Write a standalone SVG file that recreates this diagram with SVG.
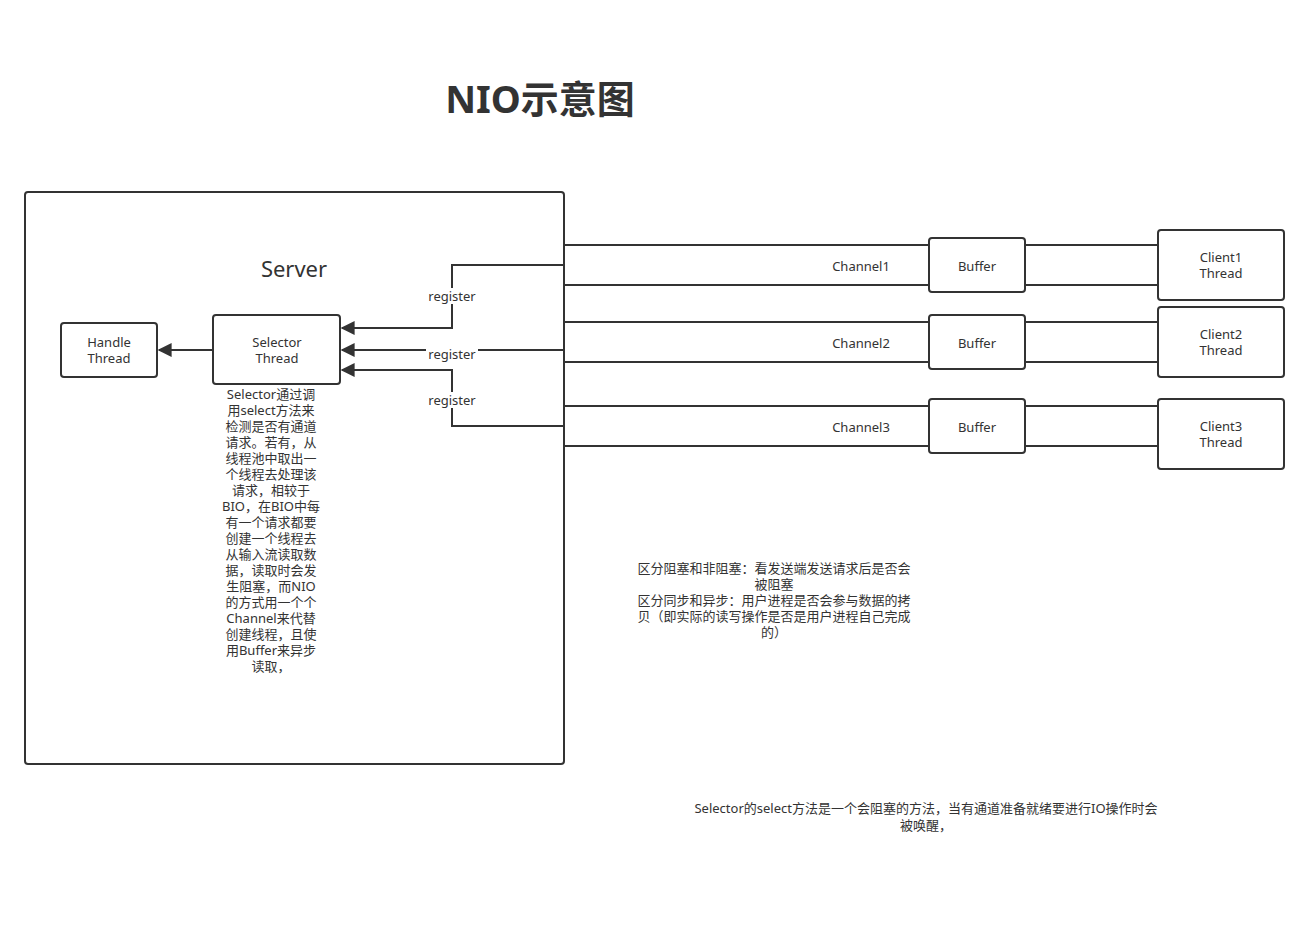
<svg xmlns="http://www.w3.org/2000/svg" width="1309" height="929" viewBox="0 0 1309 929">
<style>
.b{fill:#fff;stroke:#333;stroke-width:2}
.l{fill:none;stroke:#333;stroke-width:2}
text{font-family:"Noto Sans","Noto Sans CJK SC",sans-serif;fill:#333;font-size:13px;text-anchor:middle}
</style>
<defs><marker id="a" viewBox="0 0 10 10" refX="9" refY="5" markerWidth="7" markerHeight="7" orient="auto"><path d="M0,0L10,5L0,10z" fill="#333"/></marker></defs>
<rect width="1309" height="929" fill="#fff"/>
<text x="540" y="113" style="font-size:38px;font-weight:bold">NIO示意图</text>
<g id="server"><rect class="b" x="25" y="192" width="539" height="572" rx="3"/><text x="294" y="277" style="font-size:22px">Server</text></g>
<g id="connectors">
<path class="l" d="M564,245H929M564,285H929M1025,245H1158M1025,285H1158"/>
<path class="l" d="M564,322H929M564,362H929M1025,322H1158M1025,362H1158"/>
<path class="l" d="M564,406H929M564,446H929M1025,406H1158M1025,446H1158"/>
<path class="l" d="M564,265H452V328H342" marker-end="url(#a)"/>
<path class="l" d="M564,350H342" marker-end="url(#a)"/>
<path class="l" d="M564,426H452V370H342" marker-end="url(#a)"/>
<path class="l" d="M213,350H159" marker-end="url(#a)"/>
<rect x="426" y="288" width="52" height="16" fill="#fff"/><text x="452" y="301">register</text>
<rect x="426" y="346" width="52" height="16" fill="#fff"/><text x="452" y="359">register</text>
<rect x="426" y="392" width="52" height="16" fill="#fff"/><text x="452" y="405">register</text>
<text x="861" y="271">Channel1</text><text x="861" y="348">Channel2</text><text x="861" y="432">Channel3</text>
</g>
<g id="handle"><rect class="b" x="61" y="323" width="96" height="54" rx="3"/><text x="109" y="347">Handle</text><text x="109" y="363">Thread</text></g>
<g id="selector"><rect class="b" x="213" y="315" width="127" height="69" rx="3"/><text x="277" y="347">Selector</text><text x="277" y="363">Thread</text></g>
<g id="buf1"><rect class="b" x="929" y="238" width="96" height="54" rx="3"/><text x="977" y="271">Buffer</text></g>
<g id="buf2"><rect class="b" x="929" y="315" width="96" height="54" rx="3"/><text x="977" y="348">Buffer</text></g>
<g id="buf3"><rect class="b" x="929" y="399" width="96" height="54" rx="3"/><text x="977" y="432">Buffer</text></g>
<g id="c1"><rect class="b" x="1158" y="230" width="126" height="70" rx="3"/><text x="1221" y="262">Client1</text><text x="1221" y="278">Thread</text></g>
<g id="c2"><rect class="b" x="1158" y="307" width="126" height="70" rx="3"/><text x="1221" y="339">Client2</text><text x="1221" y="355">Thread</text></g>
<g id="c3"><rect class="b" x="1158" y="399" width="126" height="70" rx="3"/><text x="1221" y="431">Client3</text><text x="1221" y="447">Thread</text></g>
<g id="note1">
<text x="271" y="399">Selector通过调</text><text x="271" y="415">用select方法来</text><text x="271" y="431">检测是否有通道</text><text x="271" y="447">请求。若有，从</text><text x="271" y="463">线程池中取出一</text><text x="271" y="479">个线程去处理该</text><text x="271" y="495">请求，相较于</text><text x="271" y="511">BIO，在BIO中每</text><text x="271" y="527">有一个请求都要</text><text x="271" y="543">创建一个线程去</text><text x="271" y="559">从输入流读取数</text><text x="271" y="575">据，读取时会发</text><text x="271" y="591">生阻塞，而NIO</text><text x="271" y="607">的方式用一个个</text><text x="271" y="623">Channel来代替</text><text x="271" y="639">创建线程，且使</text><text x="271" y="655">用Buffer来异步</text><text x="271" y="671">读取，</text>
</g>
<g id="note2">
<text x="774" y="573">区分阻塞和非阻塞：看发送端发送请求后是否会</text><text x="774" y="589">被阻塞</text><text x="774" y="605">区分同步和异步：用户进程是否会参与数据的拷</text><text x="774" y="621">贝（即实际的读写操作是否是用户进程自己完成</text><text x="774" y="637">的）</text>
</g>
<g id="note3"><text x="926" y="813">Selector的select方法是一个会阻塞的方法，当有通道准备就绪要进行IO操作时会</text><text x="926" y="830">被唤醒，</text></g>
</svg>
